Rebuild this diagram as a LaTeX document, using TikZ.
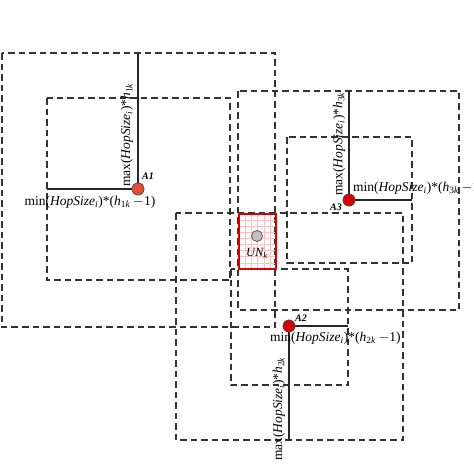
\documentclass[tikz,border=0pt]{standalone}
\usepackage{fontspec}
\setmainfont{Liberation Serif}
\begin{document}
\begin{tikzpicture}[x=1pt,y=-1pt,
  region/.style={draw=black!80, dash pattern=on 6.5pt off 4pt, line width=1.2pt},
  radius/.style={draw=black!85, line width=1.4pt},
  anchornode/.style={circle, draw=black!70, line width=0.6pt, minimum size=12pt, inner sep=0pt},
  alabel/.style={font=\fontsize{10}{11}\selectfont\bfseries\itshape, inner sep=1pt},
  formula/.style={font=\fontsize{13.5}{15}\selectfont, inner sep=1pt},
  cell/.style={draw=red!25, line width=0.6pt}]
\useasboundingbox (0,0) rectangle (474,474);
% anchor nodes
\node[anchornode, fill=red!55!brown!90] (A1) at (138,189) {};
\node[anchornode, fill=red!85!black] (A3) at (349,200) {};
\node[anchornode, fill=red!85!black] (A2) at (289,326) {};
% regions of A1
\draw[region] (2,53) rectangle (275,327);
\draw[region] (47,98) rectangle (230,280);
% regions of A3
\draw[region] (238,91) rectangle (459,310);
\draw[region] (287,137) rectangle (412,263);
% regions of A2
\draw[region] (176,213) rectangle (403,440);
\draw[region] (231,269) rectangle (348,385);
% unknown node cell
\foreach \x in {245.2,251.4,257.6,263.8,270} \draw[cell] (\x,214) -- (\x,269);
\foreach \y in {220.1,226.2,232.3,238.4,244.5,250.6,256.7,262.8} \draw[cell] (239,\y) -- (276,\y);
\draw[red!85!black, line width=1.5pt] (239,214) rectangle (276,269);
\node[circle, draw=black!70, fill=black!25, minimum size=11pt, inner sep=0pt, line width=0.7pt] (UN) at (257,236) {};
\node[font=\fontsize{12.5}{13}\selectfont\itshape, inner sep=0pt] (UNl) at (257,253) {UN\textsubscript{\textit{k}}};
% radius lines
\coordinate (A1t) at (138,53);
\coordinate (A1l) at (47,189);
\coordinate (A3t) at (349,91);
\coordinate (A3r) at (412,200);
\coordinate (A2r) at (348,326);
\coordinate (A2b) at (289,440);
\draw[radius] (A1) -- (A1t);
\draw[radius] (A1) -- (A1l);
\draw[radius] (A3) -- (A3t);
\draw[radius] (A3) -- (A3r);
\draw[radius] (A2) -- (A2r);
\draw[radius] (A2) -- (A2b);
% redraw nodes on top
\node[anchornode, fill=red!55!brown!90] at (A1) {};
\node[anchornode, fill=red!85!black] at (A3) {};
\node[anchornode, fill=red!85!black] at (A2) {};
% labels
\node[alabel] (L1) at (148,176) {A1};
\node[alabel] (L3) at (336,207) {A3};
\node[alabel] (L2) at (301,318) {A2};
\node[formula, rotate=90, anchor=west] (m1) at (127,188) {max(\textit{HopSize}\textsubscript{\textit{i}})*\textit{h}\textsubscript{1\textit{k}}};
\node[formula, anchor=north] (n1) at (90,195) {min(\textit{HopSize}\textsubscript{\textit{i}})*(\textit{h}\textsubscript{1\textit{k}}$\,-$1)};
\node[formula, rotate=90, anchor=west] (m3) at (339,197) {max(\textit{HopSize}\textsubscript{\textit{i}})*\textit{h}\textsubscript{3\textit{k}}};
\node[formula, anchor=west] (n3) at (352,188) {min(\textit{HopSize}\textsubscript{\textit{i}})*(\textit{h}\textsubscript{3\textit{k}}$\,-$1)};
\node[formula, anchor=north west] (n2) at (269,331) {min(\textit{HopSize}\textsubscript{\textit{i}})*(\textit{h}\textsubscript{2\textit{k}}$\,-$1)};
\node[formula, rotate=90, anchor=west] (m2) at (279,462) {max(\textit{HopSize}\textsubscript{\textit{i}})*\textit{h}\textsubscript{2\textit{k}}};
\end{tikzpicture}
\end{document}
